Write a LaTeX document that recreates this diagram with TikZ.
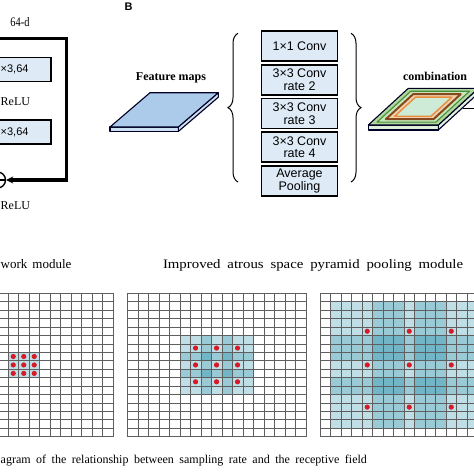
\documentclass[tikz,border=0pt]{standalone}
\usepackage{fontspec}
\setmainfont{Liberation Serif}
\setsansfont{Liberation Sans}
\usepackage{graphicx}
\usetikzlibrary{arrows.meta,decorations.pathreplacing}
\definecolor{boxblue}{RGB}{222,235,247}
\definecolor{mapblue}{RGB}{172,203,235}
\definecolor{mapside}{RGB}{205,224,243}
\definecolor{fieldcol}{RGB}{90,170,190}
\definecolor{dotred}{RGB}{215,25,40}
\definecolor{gridgray}{RGB}{95,95,95}
\definecolor{combgreen}{RGB}{175,215,155}
\definecolor{combgreen2}{RGB}{200,230,185}
\definecolor{combside}{RGB}{225,240,220}
\definecolor{ringgreen}{RGB}{70,140,60}
\definecolor{ringbrown}{RGB}{135,72,30}
\definecolor{ringorange}{RGB}{235,140,60}
\definecolor{orangefill}{RGB}{238,210,175}
\definecolor{innerfill}{RGB}{205,235,215}
\newcommand\cellw{10.5}
\newcommand\cellh{8.43}
\newcommand\gridtop{293.3}
\newcommand\fieldrect[5]{%
  \fill[fieldcol, fill opacity=0.38] ({#1+(#2)*\cellw},{\gridtop+(#4)*\cellh}) rectangle ({#1+((#3)+1)*\cellw},{\gridtop+((#5)+1)*\cellh});}
\newcommand\gridlines[1]{%
  \foreach \i in {0,...,17}{%
    \draw[gridline] ({#1+\i*\cellw},\gridtop) -- ({#1+\i*\cellw},{\gridtop+17*\cellh});
    \draw[gridline] (#1,{\gridtop+\i*\cellh}) -- ({#1+17*\cellw},{\gridtop+\i*\cellh});}}
\newcommand\dotat[3]{\fill[dotred] ({#1+((#2)+0.5)*\cellw},{\gridtop+((#3)+0.5)*\cellh}) circle (2.6);}
\newcommand\capwide[1]{\scalebox{1.14}[1]{\fontsize{13}{15}\selectfont\spaceskip=6pt plus 1pt\relax #1}}
\begin{document}
\begin{tikzpicture}[x=1pt,y=-1pt,
  gridline/.style={draw=gridgray, line width=0.55pt},
  convbox/.style={draw=black, line width=1.6pt, fill=boxblue, minimum width=76pt, minimum height=30pt, inner sep=0pt, align=center, font=\sffamily\fontsize{12.5}{12.8}\selectfont},
  abox/.style={draw=black, line width=1.5pt, fill=boxblue, minimum width=83pt, minimum height=24pt, inner sep=0pt},
  boxtext/.style={inner sep=0pt, font=\sffamily\fontsize{11}{12}\selectfont},
  plaintext/.style={inner sep=0pt, font=\fontsize{12}{14}\selectfont},
  boldtext/.style={inner sep=0pt, font=\bfseries\fontsize{12}{14}\selectfont},
  slabline/.style={draw=black!85!blue, line width=1.1pt, line join=round},
  bracestyle/.style={draw=black, line width=1pt, decorate},
  framestyle/.style={line width=3.5pt, line join=miter}]
\useasboundingbox (0,0) rectangle (474,474);
\fill[white] (0,0) rectangle (474,474);
\clip (0,0) rectangle (474,474);

% ---------------- Panel A (cropped) ----------------
\node[abox] (a1) at (9.5,69.5) {};
\node[abox] (a2) at (9.5,132.2) {};
\node[boxtext, anchor=west] (a1t) at (0.5,69.8) {×3,64};
\node[boxtext, anchor=west] (a2t) at (0.5,132.5) {×3,64};
\node[plaintext, anchor=base west] (relu1) at (0.5,105) {ReLU};
\node[plaintext, anchor=base west] (relu2) at (0.5,209.3) {ReLU};
\node[inner sep=0pt, font=\fontsize{13}{15}\selectfont, anchor=base] (dim) at (20,26.7) {\scalebox{0.8}[1]{64-d}};
\node[circle, draw, line width=1.4pt, minimum size=16pt, inner sep=0pt] (plus) at (-2.5,180) {};
\draw[line width=1.4pt] (plus.north) -- (plus.south) (plus.west) -- (plus.east);
\coordinate (f0) at (-10,38.3);
\coordinate (f1) at (66.3,38.3);
\coordinate (f2) at (66.3,180);
\draw[framestyle, -{Stealth[length=7pt,width=7pt]}] (f0) -- (f1) -- (f2) -- (plus.east);

% ---------------- Panel B ----------------
\node[inner sep=0pt, anchor=base, font=\sffamily\bfseries\fontsize{11}{13}\selectfont] (lblB) at (128.5,10) {B};
\node[boldtext, anchor=base] (fmlabel) at (171,80) {Feature maps};

% feature map slab
\draw[slabline, fill=mapside] (110,127) -- (178.3,127) -- (178.3,131.5) -- (110,131.5) -- cycle;
\draw[slabline, fill=mapside] (178.3,127) -- (218.3,92.7) -- (218.3,97.2) -- (178.3,131.5) -- cycle;
\draw[slabline, fill=mapblue] (110,127) -- (178.3,127) -- (218.3,92.7) -- (150,92.7) -- cycle;

% braces
\coordinate (lbt) at (238,33.3);
\coordinate (lbb) at (238,182);
\draw[bracestyle, decoration={brace, amplitude=10pt}] (lbb) -- (lbt);
\coordinate (rbt) at (351,33.3);
\coordinate (rbb) at (351,182);
\draw[bracestyle, decoration={brace, amplitude=10pt}] (rbt) -- (rbb);

% conv column
\node[convbox] (b1) at (299.5,45.8) {1×1 Conv};
\node[convbox] (b2) at (299.5,79.7) {3×3 Conv\\rate 2};
\node[convbox] (b3) at (299.5,113.5) {3×3 Conv\\rate 3};
\node[convbox] (b4) at (299.5,147.2) {3×3 Conv\\rate 4};
\node[convbox] (b5) at (299.5,180.9) {Average\\Pooling};

% combination
\node[boldtext, anchor=base] (comblabel) at (435,80) {combination};
\begin{scope}[shift={(423.3,106.7)}]
  \draw[slabline, fill=combside] (-55,18.3) -- (15,18.3) -- (15,23.3) -- (-55,23.3) -- cycle;
  \draw[slabline, fill=combside] (15,18.3) -- (55,-18.4) -- (55,-13.4) -- (15,23.3) -- cycle;
  \draw[slabline, fill=combgreen] (-55,18.3) -- (15,18.3) -- (55,-18.4) -- (-15,-18.4) -- cycle;
  \foreach \s/\fc/\dc/\lw in {0.84/combgreen2/ringgreen/1.1, 0.68/orangefill/ringbrown/2.0, 0.52/innerfill/ringorange/1.4}{
    \draw[fill=\fc, draw=\dc, line width=\lw pt, line join=round] (-55*\s,18.3*\s) -- (15*\s,18.3*\s) -- (55*\s,-18.4*\s) -- (-15*\s,-18.4*\s) -- cycle;}
\end{scope}
\coordinate (out1) at (463,108.3);
\coordinate (out2) at (480,108.3);
\draw[line width=1.1pt] (out1) -- (out2);

% ---------------- Grids ----------------
% grid 1 (rate 1)
\fieldrect{-65.5}{7}{9}{7}{9}
\gridlines{-65.5}
\foreach \c in {7,8,9}{\foreach \r in {7,8,9}{\dotat{-65.5}{\c}{\r}}}
% grid 2 (rate 2)
\foreach \c in {6,8,10}{\foreach \r in {6,8,10}{\fieldrect{127.3}{\c-1}{\c+1}{\r-1}{\r+1}}}
\gridlines{127.3}
\foreach \c in {6,8,10}{\foreach \r in {6,8,10}{\dotat{127.3}{\c}{\r}}}
% grid 3 (rate 4)
\foreach \c/\ca/\cb in {4/1/7, 8/5/11, 12/9/15}{\foreach \r/\ra/\rb in {4/1/7, 8/5/11, 13/10/15}{\fieldrect{320}{\ca}{\cb}{\ra}{\rb}}}
\gridlines{320}
\foreach \c in {4,8,12}{\foreach \r in {4,8,13}{\dotat{320}{\c}{\r}}}

% captions
\node[inner sep=0pt, anchor=base west, font=\fontsize{13}{15}\selectfont] (cap1) at (0.5,268.3) {\spaceskip=5pt plus 1pt\relax work module};
\node[inner sep=0pt, anchor=base east] (cap2) at (463.3,268.3) {\capwide{Improved atrous space pyramid pooling module}};
\node[inner sep=0pt, anchor=base west, font=\fontsize{12}{14}\selectfont] (cap3) at (0.5,463.3) {\spaceskip=5.5pt plus 1pt\relax agram of the relationship between sampling rate and the receptive field};
\end{tikzpicture}
\end{document}
